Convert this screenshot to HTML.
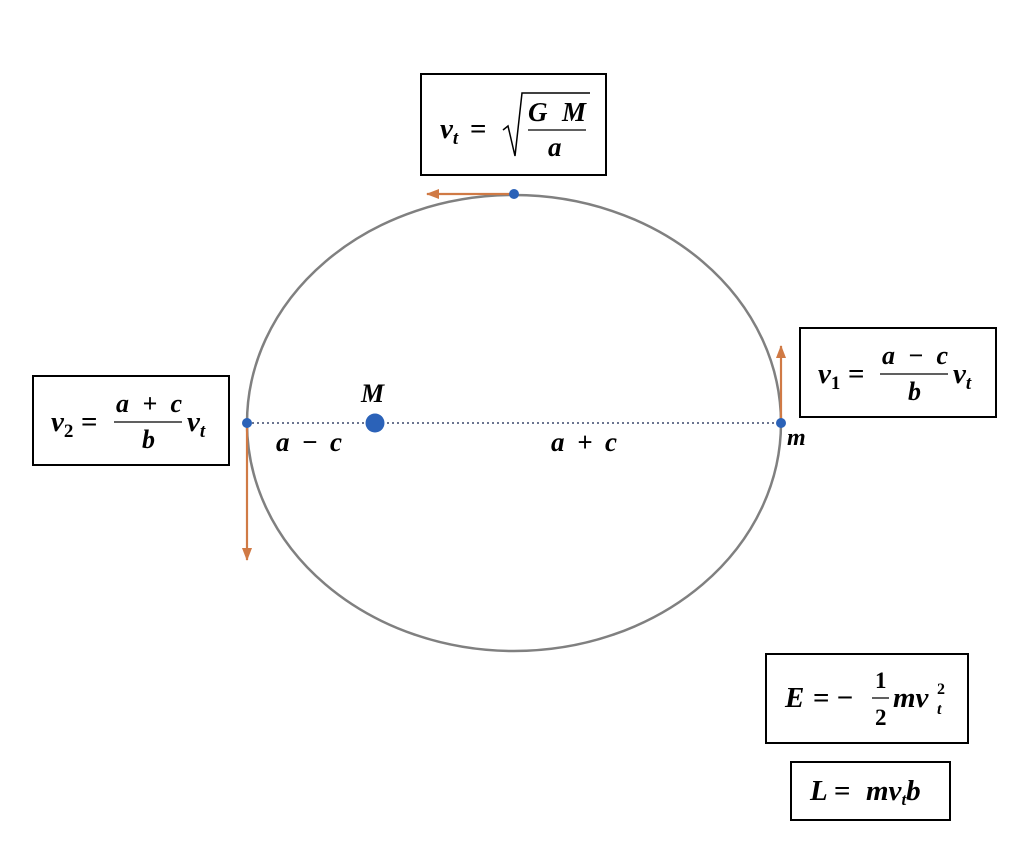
<!DOCTYPE html>
<html><head><meta charset="utf-8"><style>
body{margin:0;background:#fff;}
svg text{font-family:"Liberation Serif",serif;font-weight:bold;font-style:italic;fill:#000;}
.n{font-style:normal;}
</style></head><body>
<svg width="1024" height="857" viewBox="0 0 1024 857" xmlns="http://www.w3.org/2000/svg">
<defs><marker id="ah" markerWidth="13" markerHeight="10" refX="12" refY="5" orient="auto" markerUnits="userSpaceOnUse"><path d="M0,0 L13,5 L0,10 z" fill="#d07a45"/></marker></defs>
<ellipse cx="514" cy="423" rx="267" ry="228" fill="none" stroke="#808080" stroke-width="2.5"/>
<line x1="247" y1="423" x2="781" y2="423" stroke="#6b7590" stroke-width="2" stroke-dasharray="2,3"/>
<line x1="514" y1="194" x2="427" y2="194" stroke="#d07a45" stroke-width="2.2" marker-end="url(#ah)"/>
<line x1="781" y1="423" x2="781" y2="346" stroke="#d07a45" stroke-width="2.2" marker-end="url(#ah)"/>
<line x1="247" y1="423" x2="247" y2="560" stroke="#d07a45" stroke-width="2.2" marker-end="url(#ah)"/>
<circle cx="514" cy="194" r="5" fill="#2b62b8"/>
<circle cx="781" cy="423" r="5" fill="#2b62b8"/>
<circle cx="247" cy="423" r="5" fill="#2b62b8"/>
<circle cx="375" cy="423" r="9.5" fill="#2b62b8"/>
<text x="361" y="402" font-size="26">M</text>
<text x="787" y="445" font-size="24">m</text>
<text x="276" y="451" font-size="27" textLength="66">a − c</text>
<text x="551" y="451" font-size="27" textLength="66">a + c</text>
<g fill="none" stroke="#000" stroke-width="2">
<rect x="421" y="74" width="185" height="101"/>
<rect x="800" y="328" width="196" height="89"/>
<rect x="33" y="376" width="196" height="89"/>
<rect x="766" y="654" width="202" height="89"/>
<rect x="791" y="762" width="159" height="58"/>
</g>
<!-- top -->
<text x="440" y="138" font-size="29">v<tspan font-size="19" dy="6">t</tspan></text>
<text x="470" y="138" font-size="29" class="n">=</text>
<path d="M503,130 L508,126 L515,156 L522,93 L590,93" fill="none" stroke="#000" stroke-width="1.5"/>
<text x="528" y="121" font-size="27" textLength="58">GM</text>
<line x1="528" y1="130" x2="586" y2="130" stroke="#000" stroke-width="1.2"/>
<text x="548" y="156" font-size="27">a</text>
<!-- right -->
<text x="818" y="383" font-size="29">v<tspan font-size="19" dy="6" class="n">1</tspan></text>
<text x="848" y="383" font-size="29" class="n">=</text>
<text x="882" y="364" font-size="26" textLength="66">a − c</text>
<line x1="880" y1="374" x2="948" y2="374" stroke="#000" stroke-width="1.2"/>
<text x="908" y="400" font-size="26">b</text>
<text x="953" y="383" font-size="29">v<tspan font-size="19" dy="6">t</tspan></text>
<!-- left -->
<text x="51" y="431" font-size="29">v<tspan font-size="19" dy="6" class="n">2</tspan></text>
<text x="81" y="431" font-size="29" class="n">=</text>
<text x="116" y="412" font-size="26" textLength="66">a + c</text>
<line x1="114" y1="422" x2="182" y2="422" stroke="#000" stroke-width="1.2"/>
<text x="142" y="448" font-size="26">b</text>
<text x="187" y="431" font-size="29">v<tspan font-size="19" dy="6">t</tspan></text>
<!-- E -->
<text x="785" y="707" font-size="29">E</text>
<text x="813" y="707" font-size="29" class="n">= −</text>
<text x="875" y="688" font-size="23" class="n">1</text>
<line x1="872" y1="698" x2="889" y2="698" stroke="#000" stroke-width="1.2"/>
<text x="875" y="725" font-size="23" class="n">2</text>
<text x="893" y="707" font-size="29">mv</text><text x="937" y="694" font-size="16" class="n">2</text><text x="937" y="714" font-size="16">t</text>
<!-- L -->
<text x="810" y="800" font-size="29">L</text>
<text x="834" y="800" font-size="29" class="n">=</text>
<text x="866" y="800" font-size="29">mv<tspan font-size="17" dy="5">t</tspan><tspan dy="-5">b</tspan></text>
</svg>
</body></html>
